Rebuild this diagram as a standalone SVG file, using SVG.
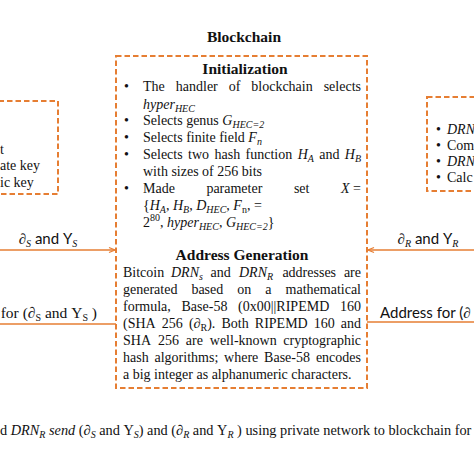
<svg xmlns="http://www.w3.org/2000/svg" width="474" height="474" viewBox="0 0 474 474">
<style>
  .bg { fill: #ffffff; }
  .box { fill: none; stroke: #E67E33; stroke-width: 2; stroke-dasharray: 5.5 3; }
  .line { fill: none; stroke: #E67E33; stroke-width: 1.6; }
  .t { font-family: "Liberation Serif", "Times New Roman", serif; font-size: 14px; fill: #111111; }
  .h { font-family: "Liberation Serif", "Times New Roman", serif; font-size: 15.5px; font-weight: bold; fill: #111111; }
  .s { font-family: Lato, "Liberation Sans", Arial, sans-serif; font-size: 15px; fill: #111111; }
  .i { font-family: "Liberation Serif", "Times New Roman", serif; font-style: italic; }
  .sub { font-size: 10px; }
</style>
<defs>
  <marker id="arr" markerUnits="userSpaceOnUse" markerWidth="8" markerHeight="8" refX="7" refY="4" orient="auto">
    <path d="M1,1.5 L7,4 L1,6.5" fill="none" stroke="#E67E33" stroke-width="1.3"/>
  </marker>
</defs>
<rect class="bg" x="0" y="0" width="474" height="474"/>

<text class="h" x="244" y="42" text-anchor="middle">Blockchain</text>

<g id="node-sender">
  <rect class="box" x="-10" y="101" width="68" height="93"/>
  <text class="t" x="0" y="154">t</text>
  <text class="t" x="0" y="170">ate key</text>
  <text class="t" x="0" y="187">ic key</text>
</g>

<g id="node-receiver">
  <rect class="box" x="427" y="97" width="60" height="94"/>
  <text class="t" x="436" y="134">•</text>
  <text class="t i" x="447" y="134">DRN</text>
  <text class="t" x="436" y="150">•</text>
  <text class="t" x="447" y="150">Com</text>
  <text class="t" x="436" y="166">•</text>
  <text class="t i" x="447" y="166">DRN</text>
  <text class="t" x="436" y="182">•</text>
  <text class="t" x="447" y="182">Calc</text>
</g>

<g id="node-blockchain">
  <rect class="box" x="116" y="56" width="251" height="332"/>
  <text class="h" x="245" y="74" text-anchor="middle">Initialization</text>

  <text class="t" x="124" y="91">•</text>
  <text class="t" y="91"><tspan x="143">The</tspan><tspan x="175.8">handler</tspan><tspan x="228.7">of</tspan><tspan x="251.3">blockchain</tspan><tspan x="361" text-anchor="end">selects</tspan></text>
  <text class="t" x="143" y="109"><tspan class="i">hyper</tspan><tspan class="i sub" dy="3">HEC</tspan></text>

  <text class="t" x="124" y="125">•</text>
  <text class="t" x="143" y="125">Selects genus <tspan class="i">G</tspan><tspan class="i sub" dy="3">HEC=2</tspan></text>

  <text class="t" x="124" y="142">•</text>
  <text class="t" x="143" y="142">Selects finite field <tspan class="i">F</tspan><tspan class="i sub" dy="3">n</tspan></text>

  <text class="t" x="124" y="159">•</text>
  <text class="t" y="159"><tspan x="143">Selects</tspan><tspan x="188.1">two</tspan><tspan x="214.5">hash</tspan><tspan x="245.6">function</tspan><tspan x="297.7" class="i">H</tspan><tspan class="i sub" dy="3">A</tspan><tspan x="319.3" dy="-3">and</tspan><tspan x="344.8" class="i">H</tspan><tspan class="i sub" dy="3">B</tspan></text>
  <text class="t" x="143" y="176">with sizes of 256 bits</text>

  <text class="t" x="124" y="193">•</text>
  <text class="t" y="193"><tspan x="143">Made</tspan><tspan x="206.4">parameter</tspan><tspan x="293.9">set</tspan><tspan x="361" text-anchor="end"><tspan class="i">X</tspan> =</tspan></text>
  <text class="t" x="143" y="210">{<tspan class="i">H</tspan><tspan class="i sub" dy="3">A</tspan><tspan dy="-3">, </tspan><tspan class="i">H</tspan><tspan class="i sub" dy="3">B</tspan><tspan dy="-3">, </tspan><tspan class="i">D</tspan><tspan class="i sub" dy="3">HEC</tspan><tspan dy="-3">, </tspan><tspan class="i">F</tspan><tspan class="sub" dy="3">n</tspan><tspan dy="-3">, =</tspan></text>
  <text class="t" x="143" y="227">2<tspan class="sub" dy="-6">80</tspan><tspan dy="6">, </tspan><tspan class="i">hyper</tspan><tspan class="i sub" dy="3">HEC</tspan><tspan dy="-3">, </tspan><tspan class="i">G</tspan><tspan class="i sub" dy="3">HEC=2</tspan><tspan dy="-3">}</tspan></text>

  <text class="h" x="242" y="260" text-anchor="middle">Address Generation</text>
  <text class="t" y="277"><tspan x="123">Bitcoin</tspan><tspan x="171" class="i">DRN</tspan><tspan class="i sub" dy="3">s</tspan><tspan x="210.5" dy="-3">and</tspan><tspan x="239" class="i">DRN</tspan><tspan class="i sub" dy="3">R</tspan><tspan x="282.4" dy="-3">addresses</tspan><tspan x="361" text-anchor="end">are</tspan></text>
  <text class="t" y="294"><tspan x="123">generated</tspan><tspan x="191.4">based</tspan><tspan x="237.3">on</tspan><tspan x="265.3">a</tspan><tspan x="361" text-anchor="end">mathematical</tspan></text>
  <text class="t" y="311"><tspan x="123">formula,</tspan><tspan x="181.5">Base-58</tspan><tspan x="238.1">(0x00||RIPEMD</tspan><tspan x="361" text-anchor="end">160</tspan></text>
  <text class="t" y="328"><tspan x="123">(SHA</tspan><tspan x="161.8">256</tspan><tspan x="188.9">(<tspan class="i">∂</tspan><tspan class="sub" dy="3">R</tspan><tspan dy="-3">).</tspan></tspan><tspan x="221.5">Both</tspan><tspan x="254.8">RIPEMD</tspan><tspan x="313.8">160</tspan><tspan x="361" text-anchor="end">and</tspan></text>
  <text class="t" y="345"><tspan x="123">SHA</tspan><tspan x="157.9">256</tspan><tspan x="185.8">are</tspan><tspan x="209.8">well-known</tspan><tspan x="361" text-anchor="end">cryptographic</tspan></text>
  <text class="t" y="362"><tspan x="123">hash</tspan><tspan x="154.5">algorithms;</tspan><tspan x="224.1">where</tspan><tspan x="264.1">Base-58</tspan><tspan x="361" text-anchor="end">encodes</tspan></text>
  <text class="t" x="123" y="379">a big integer as alphanumeric characters.</text>
</g>

<g id="connectors">
  <line class="line" x1="0" y1="250" x2="115" y2="250" marker-end="url(#arr)"/>
  <line class="line" x1="474" y1="250" x2="368" y2="250" marker-end="url(#arr)"/>
  <line class="line" x1="0" y1="324" x2="116" y2="324"/>
  <line class="line" x1="367" y1="322" x2="474" y2="322"/>
  <text class="s" x="48" y="244" text-anchor="middle"><tspan class="i">∂</tspan><tspan class="i sub" dy="3">S</tspan><tspan dy="-3"> and Υ</tspan><tspan class="i sub" dy="3">S</tspan></text>
  <text class="s" x="428" y="244" text-anchor="middle"><tspan class="i">∂</tspan><tspan class="i sub" dy="3">R</tspan><tspan dy="-3"> and Υ</tspan><tspan class="i sub" dy="3">R</tspan></text>
  <text class="t" x="97" y="318" text-anchor="end" style="font-size:15.5px">for (<tspan class="i">∂</tspan><tspan class="sub" dy="3">S</tspan><tspan dy="-3"> and Υ</tspan><tspan class="sub" dy="3">S</tspan><tspan dy="-3"> )</tspan></text>
  <text class="s" x="380" y="318">Address for (<tspan class="i">∂</tspan></text>
</g>

<text class="t" x="0" y="435" style="font-size:14.3px">d <tspan class="i">DRN</tspan><tspan class="i sub" dy="3">R</tspan><tspan class="i" dy="-3"> send</tspan> (<tspan class="i">∂</tspan><tspan class="i sub" dy="3">S</tspan><tspan dy="-3"> and Υ</tspan><tspan class="i sub" dy="3">S</tspan><tspan dy="-3">) and (</tspan><tspan class="i">∂</tspan><tspan class="i sub" dy="3">R</tspan><tspan dy="-3"> and Υ</tspan><tspan class="i sub" dy="3">R</tspan><tspan dy="-3"> ) using private network to blockchain for</tspan></text>
</svg>
